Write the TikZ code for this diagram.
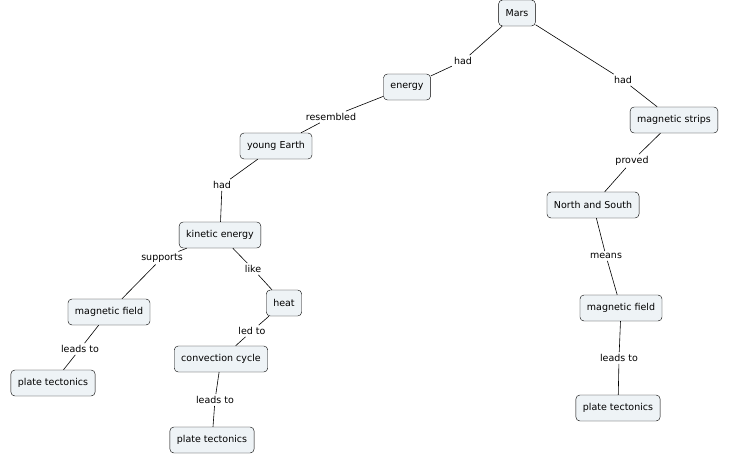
\documentclass[tikz,border=0pt]{standalone}
\usepackage{fontspec}
\setmainfont{DejaVu Sans}
\begin{document}
\begin{tikzpicture}[x=1pt,y=-1pt,
  c/.style={draw=black,fill={rgb,255:red,238;green,243;blue,246},rounded corners=4pt,minimum height=26pt,inner xsep=7pt,font=\fontsize{9.5}{11}\selectfont},
  l/.style={inner sep=2pt,font=\fontsize{9.5}{11}\selectfont},
  e/.style={draw=black,line width=0.6pt}]
\useasboundingbox (0,0) rectangle (730,458);
\node[c] (mars) at (517,13) {Mars};
\node[c] (energy) at (407,87) {energy};
\node[c] (strips) at (674,120) {magnetic strips};
\node[c] (young) at (276,146) {young Earth};
\node[c] (ns) at (593,205) {North and South};
\node[c] (kin) at (220,235) {kinetic energy};
\node[c] (mfl) at (109,312) {magnetic field};
\node[c] (heat) at (284,303) {heat};
\node[c] (conv) at (221,359) {convection cycle};
\node[c] (ptl) at (53,383) {plate tectonics};
\node[c] (mfr) at (621,308) {magnetic field};
\node[c] (ptr) at (618,408) {plate tectonics};
\node[c] (ptb) at (212,440) {plate tectonics};
\node[l] (l1) at (463,61) {had};
\node[l] (l2) at (623,80) {had};
\node[l] (l3) at (331,117) {resembled};
\node[l] (l4) at (222,185) {had};
\node[l] (l5) at (162,258) {supports};
\node[l] (l6) at (253,269) {like};
\node[l] (l7) at (80,349) {leads to};
\node[l] (l8) at (252,331) {led to};
\node[l] (l9) at (215,400) {leads to};
\node[l] (l10) at (632,161) {proved};
\node[l] (l11) at (606,256) {means};
\node[l] (l12) at (619,358) {leads to};
\draw[e] (mars) -- (l1) -- (energy);
\draw[e] (mars) -- (l2) -- (strips);
\draw[e] (energy) -- (l3) -- (young);
\draw[e] (young) -- (l4) -- (kin);
\draw[e] (kin) -- (l5) -- (mfl);
\draw[e] (kin) -- (l6) -- (heat);
\draw[e] (mfl) -- (l7) -- (ptl);
\draw[e] (heat) -- (l8) -- (conv);
\draw[e] (conv) -- (l9) -- (ptb);
\draw[e] (strips) -- (l10) -- (ns);
\draw[e] (ns) -- (l11) -- (mfr);
\draw[e] (mfr) -- (l12) -- (ptr);
\end{tikzpicture}
\end{document}
